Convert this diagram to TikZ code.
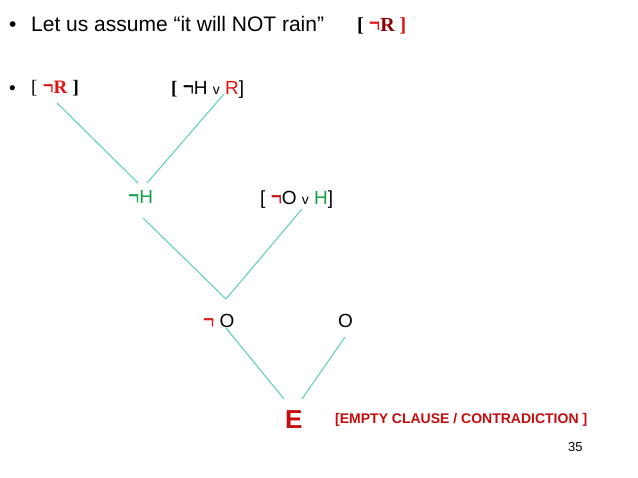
\documentclass[tikz,border=0pt]{standalone}
\usepackage{fontspec}
\setmainfont{Liberation Sans}
\newfontfamily\serifb{Liberation Serif}
\usetikzlibrary{calc}
\definecolor{tred}{RGB}{226,18,18}
\definecolor{tdred}{RGB}{198,12,12}
\definecolor{tgreen}{RGB}{22,160,72}
\definecolor{tteal}{RGB}{100,208,192}
\newcommand{\smallv}{{\fontsize{14}{14}\selectfont v}}
\newcommand{\lneg}{\raisebox{-0.1em}{\scalebox{1}[1.55]{¬}}}
\begin{document}
\begin{tikzpicture}[x=1pt,y=-1pt,
  lbl/.style={inner sep=0pt, anchor=base west, font=\fontsize{19}{19}\selectfont},
  link/.style={draw=tteal, line width=1.1pt}]
\useasboundingbox[fill=white] (0,0) rectangle (638,478);
% first line
\node[lbl, font=\fontsize{21}{21}\selectfont] (b1) at (9,32) {•};
\node[lbl, font=\fontsize{21}{21}\selectfont] (t1) at (31,32) {Let us assume “it will NOT rain”};
\node[lbl, font=\fontsize{20}{20}\selectfont\serifb\bfseries] (r1) at (357,32) {[ \textcolor{tred}{\lneg}\textcolor{red!55!black}{R} \textcolor{tred}{]}};
% second line
\node[lbl] (b2) at (9,95) {•};
\node[lbl] (nR) at (31,94) {{\serifb [} \textcolor{tred}{\serifb\bfseries \lneg R} {\serifb\bfseries ]}};
\node[lbl] (nHR) at (171,95) {{\serifb\bfseries [} \lneg H \smallv{} \textcolor{tred}{R}]};
% tree
\node[lbl, text=tgreen] (nH) at (128,204) {\lneg H};
\node[lbl] (nOH) at (260,205) {[ \textcolor{tdred}{\lneg}O \smallv{} \textcolor{tgreen}{H}]};
\node[lbl] (nO1) at (203,328) {\textcolor{tred}{\lneg} O};
\node[lbl] (nO2) at (338,328) {O};
\node[lbl, font=\fontsize{26}{26}\selectfont\bfseries, text=tdred] (nE) at (285,429) {E};
\node[lbl, font=\fontsize{14}{14}\selectfont\bfseries, text=tdred] (cap) at (335,424) {[EMPTY CLAUSE / CONTRADICTION ]};
\node[lbl, font=\fontsize{13}{13}\selectfont] (pg) at (568,452) {35};
% connectors
\draw[link] ($(nR.base west)+(26,9)$) -- ($(nH.base west)+(10,-21)$);
\draw[link] ($(nHR.base west)+(53,-1)$) -- ($(nH.base west)+(19,-21)$);
\draw[link] ($(nH.base west)+(15,14)$) -- ($(nO1.base west)+(23,-29)$);
\draw[link] ($(nOH.base west)+(42,4)$) -- ($(nO1.base west)+(23,-29)$);
\draw[link] ($(nO1.base west)+(23,0)$) -- ($(nE.base west)+(-1,-30)$);
\draw[link] ($(nO2.base west)+(7,9)$) -- ($(nE.base west)+(17,-30)$);
\end{tikzpicture}
\end{document}
